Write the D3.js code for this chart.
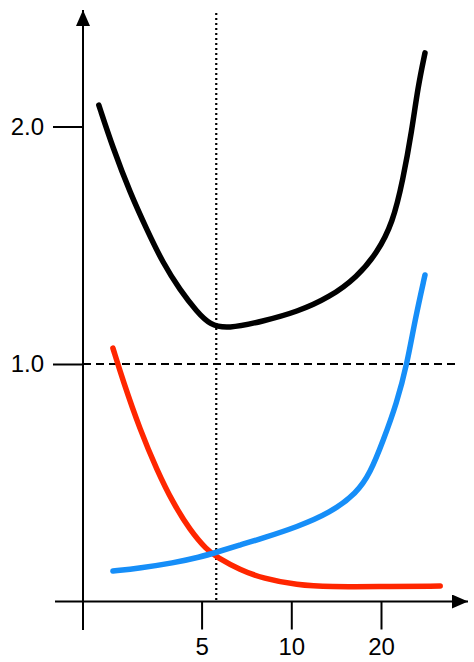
<!DOCTYPE html>
<html>
<head>
<meta charset="utf-8">
<script src="https://cdn.jsdelivr.net/npm/d3@7"></script>
<style>
  body { margin: 0; background: #fff; }
  svg { display: block; }
  .tick text { font-family: "Liberation Sans", Arial, sans-serif; font-size: 24px; fill: #000; }
  .tick line { stroke: #000; stroke-width: 2; }
</style>
</head>
<body>
<svg width="474" height="662"></svg>
<script>
// values (x on a log scale)
var xTicks = [5, 10, 20];
var yTicks = [1.0, 2.0];
var markerX = 5.6;   // dotted vertical line
var refY = 1.0;      // dashed horizontal line

var blackX = [2.26, 2.52, 2.88, 3.28, 3.71, 4.23, 4.83, 5.34, 6.09, 8.04, 10.45, 13.5, 16.6, 19.4, 21.9, 23.7, 25.4, 26.6, 28.1];
var blackY = [2.09, 1.91, 1.72, 1.564, 1.425, 1.312, 1.219, 1.165, 1.148, 1.18, 1.219, 1.282, 1.366, 1.467, 1.594, 1.775, 1.985, 2.166, 2.31];

var redX = [2.52, 2.72, 3.11, 3.54, 4.01, 4.57, 5.21, 5.63, 6.73, 8.04, 10.45, 13.5, 19.8, 31.6];
var redY = [1.067, 0.932, 0.722, 0.554, 0.415, 0.301, 0.217, 0.187, 0.133, 0.097, 0.069, 0.061, 0.063, 0.065];

var blueX = [2.52, 3.11, 4.01, 4.94, 5.63, 6.73, 8.04, 10.45, 13.5, 16.6, 18.4, 20.3, 22.6, 24.5, 26.0, 28.1];
var blueY = [0.128, 0.141, 0.162, 0.187, 0.208, 0.238, 0.267, 0.314, 0.373, 0.457, 0.541, 0.674, 0.836, 1.004, 1.185, 1.375];

var svg = d3.select("svg");

var x = d3.scaleLog()
    .domain([2, 40])
    .range([83, 470.7]);

var y = d3.scaleLinear()
    .domain([0, 2])
    .range([601.5, 126.5]);

var defs = svg.append("defs");
defs.append("marker")
    .attr("id", "arrow")
    .attr("viewBox", "0 0 16 14")
    .attr("refX", 16).attr("refY", 7)
    .attr("markerWidth", 16).attr("markerHeight", 14)
    .attr("markerUnits", "userSpaceOnUse")
    .attr("orient", "auto")
  .append("path")
    .attr("d", "M0,0L16,7L0,14Z")
    .attr("fill", "#000");

// axis lines with arrows
svg.append("line")
    .attr("x1", 55).attr("x2", 468)
    .attr("y1", y(0)).attr("y2", y(0))
    .attr("stroke", "#000").attr("stroke-width", 2)
    .attr("marker-end", "url(#arrow)");

svg.append("line")
    .attr("x1", x(2)).attr("x2", x(2))
    .attr("y1", 630).attr("y2", 10)
    .attr("stroke", "#000").attr("stroke-width", 2)
    .attr("marker-end", "url(#arrow)");

var gx = svg.append("g")
    .attr("transform", "translate(0," + y(0) + ")")
    .call(d3.axisBottom(x).tickValues(xTicks).tickFormat(d3.format("d")).tickSize(28).tickPadding(8));
gx.select(".domain").remove();

var gy = svg.append("g")
    .attr("transform", "translate(" + x(2) + ",0)")
    .call(d3.axisLeft(y).tickValues(yTicks).tickFormat(d3.format(".1f")).tickSize(30).tickPadding(9));
gy.select(".domain").remove();

// reference lines
svg.append("line")
    .attr("x1", x(2)).attr("x2", 457)
    .attr("y1", y(refY)).attr("y2", y(refY))
    .attr("stroke", "#000").attr("stroke-width", 2)
    .attr("stroke-dasharray", "8,5");

svg.append("line")
    .attr("x1", x(markerX)).attr("x2", x(markerX))
    .attr("y1", 13).attr("y2", y(0))
    .attr("stroke", "#000").attr("stroke-width", 2.2)
    .attr("stroke-dasharray", "2,3");

var line = d3.line()
    .x(function(d) { return x(d[0]); })
    .y(function(d) { return y(d[1]); })
    .curve(d3.curveBasis);

function curve(xs, ys, color) {
  svg.append("path")
      .datum(d3.zip(xs, ys))
      .attr("d", line)
      .attr("fill", "none")
      .attr("stroke", color)
      .attr("stroke-width", 5.5)
      .attr("stroke-linecap", "round")
      .attr("stroke-linejoin", "round");
}

curve(blackX, blackY, "#000");
curve(redX, redY, "#ff2600");
curve(blueX, blueY, "#168ef8");
</script>
</body>
</html>
